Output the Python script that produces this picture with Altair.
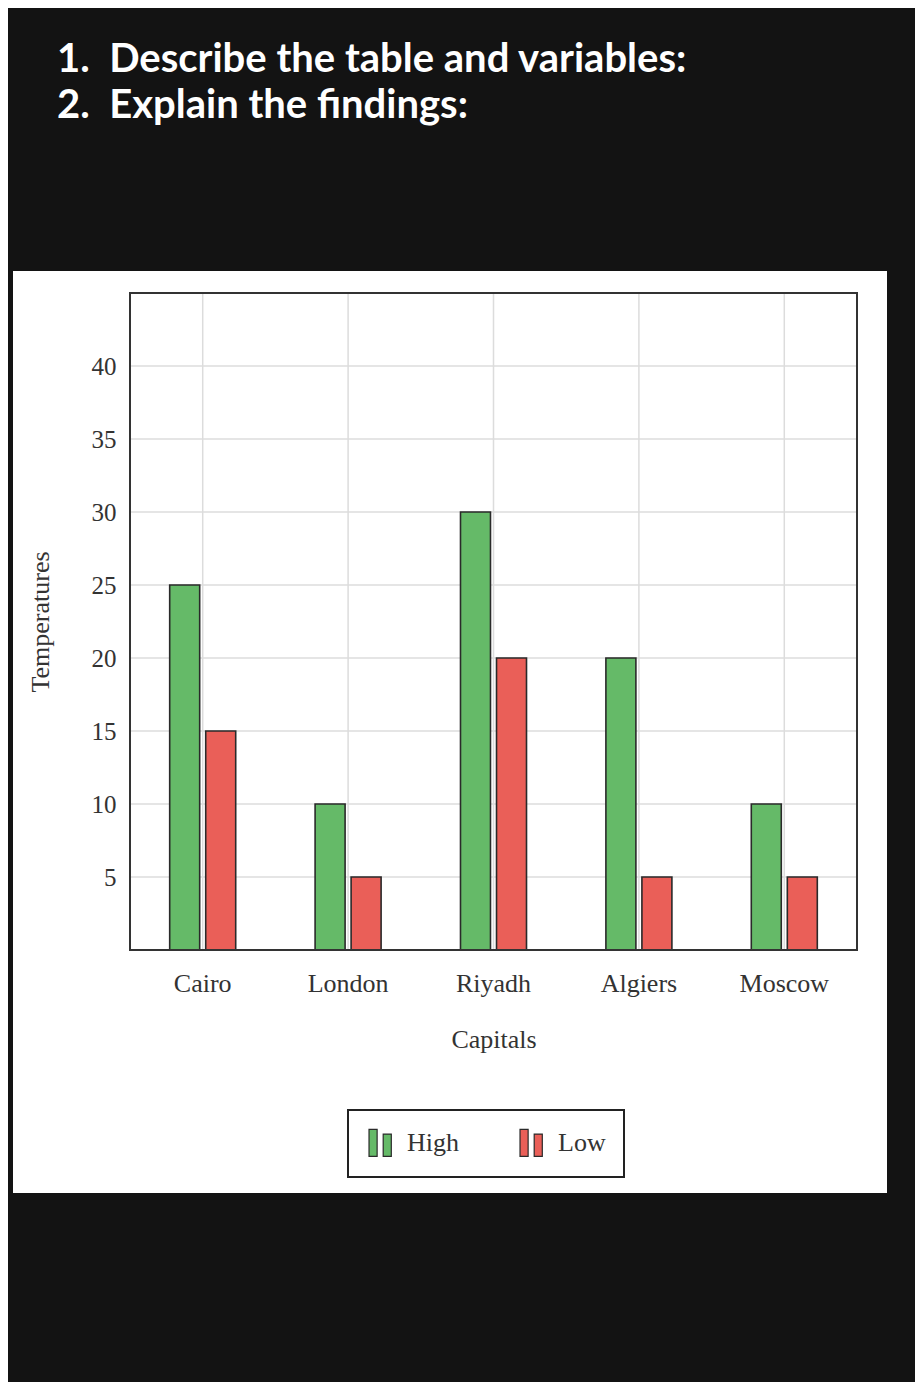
import altair as alt
import pandas as pd

# ---- data ----
cities = ["Cairo", "London", "Riyadh", "Algiers", "Moscow"]
high = [25, 10, 30, 20, 10]
low = [15, 5, 20, 5, 5]
series = ["High", "Low"]
y_ticks = [5, 10, 15, 20, 25, 30, 35, 40]
header = ["1.\u00a0\u00a0Describe the table and variables:",
          "2.\u00a0\u00a0Explain the findings:"]

bars_df = pd.DataFrame({
    "city": cities * 2,
    "series": ["High"] * len(cities) + ["Low"] * len(cities),
    "temp": high + low,
})

W, H = 727, 657
SERIF = "Liberation Serif"
TXT = "#333333"
GREEN = "#65ba68"
RED = "#ea5f58"
GRID = "#dcdcdc"

x_scale = alt.Scale(paddingInner=0.546, paddingOuter=0.273)
y_scale = alt.Scale(domain=[0, 45], nice=False, zero=True)

x_axis = alt.Axis(title="Capitals", labelAngle=0, ticks=False, domain=False,
                  labelFont=SERIF, labelFontSize=26, labelColor=TXT,
                  labelPadding=20, titleFont=SERIF, titleFontSize=26,
                  titleFontWeight="normal", titleColor=TXT, titlePadding=30,
                  zindex=1, grid=False)
y_axis = alt.Axis(title="Temperatures", values=y_ticks, ticks=False, domain=False,
                  grid=False, labelFont=SERIF, labelFontSize=25, labelColor=TXT,
                  labelPadding=14, titleFont=SERIF, titleFontSize=26,
                  titleFontWeight="normal", titleColor=TXT, titlePadding=38,
                  zindex=1)

one = pd.DataFrame({"k": [0]})

panel = alt.Chart(one).mark_rect(color="white").encode(
    x=alt.value(-117), x2=alt.value(757), y=alt.value(-22), y2=alt.value(900)
)

ygrid = alt.Chart(pd.DataFrame({"temp": y_ticks})).mark_rule(
    color=GRID, strokeWidth=1.5
).encode(y=alt.Y("temp:Q", scale=y_scale, axis=y_axis))

xgrid = alt.Chart(pd.DataFrame({"city": cities})).mark_rule(
    color=GRID, strokeWidth=1.5
).encode(x=alt.X("city:N", sort=cities, scale=x_scale, axis=x_axis))

bars = alt.Chart(bars_df).mark_bar(stroke="#2a2a2a", strokeWidth=1.6, opacity=1).encode(
    x=alt.X("city:N", sort=cities, scale=x_scale, axis=x_axis),
    xOffset=alt.XOffset("series:N", sort=series,
                        scale=alt.Scale(paddingInner=0.167, paddingOuter=0)),
    y=alt.Y("temp:Q", scale=y_scale, axis=y_axis),
    color=alt.Color("series:N", sort=series,
                    scale=alt.Scale(domain=series, range=[GREEN, RED]),
                    legend=alt.Legend(title=None, orient="none", legendX=218, legendY=817,
                                      direction="horizontal", columns=2,
                                      symbolType="M-0.85,-1H-0.25V1H-0.85Z M0.2,-0.65H0.8V1H0.2Z",
                                      symbolSize=729, symbolStrokeColor="#2a2a2a",
                                      symbolStrokeWidth=1.2, symbolOpacity=1,
                                      labelFont=SERIF, labelFontSize=26, labelColor=TXT,
                                      labelOffset=12, columnPadding=58, padding=18,
                                      strokeColor="#222222", zindex=1)),
)

frame = alt.Chart(one).mark_rect(fillOpacity=0, stroke="#333333", strokeWidth=2).encode(
    x=alt.value(0), x2=alt.value(W), y=alt.value(0), y2=alt.value(H)
)

chart = alt.layer(panel, ygrid, xgrid, bars, frame).properties(
    width=W, height=H,
    title=alt.Title(text=header, anchor="start", frame="bounds", dx=44,
                    font="Lato", fontSize=40, fontWeight="bold", color="white",
                    lineHeight=46, offset=145),
    background="#131313",
    padding={"left": 5, "top": 32, "right": 28, "bottom": 189},
).configure_view(stroke=None).configure_legend(strokeWidth=2)

chart.save("out.html", embed_options={"renderer": "svg", "actions": False})
